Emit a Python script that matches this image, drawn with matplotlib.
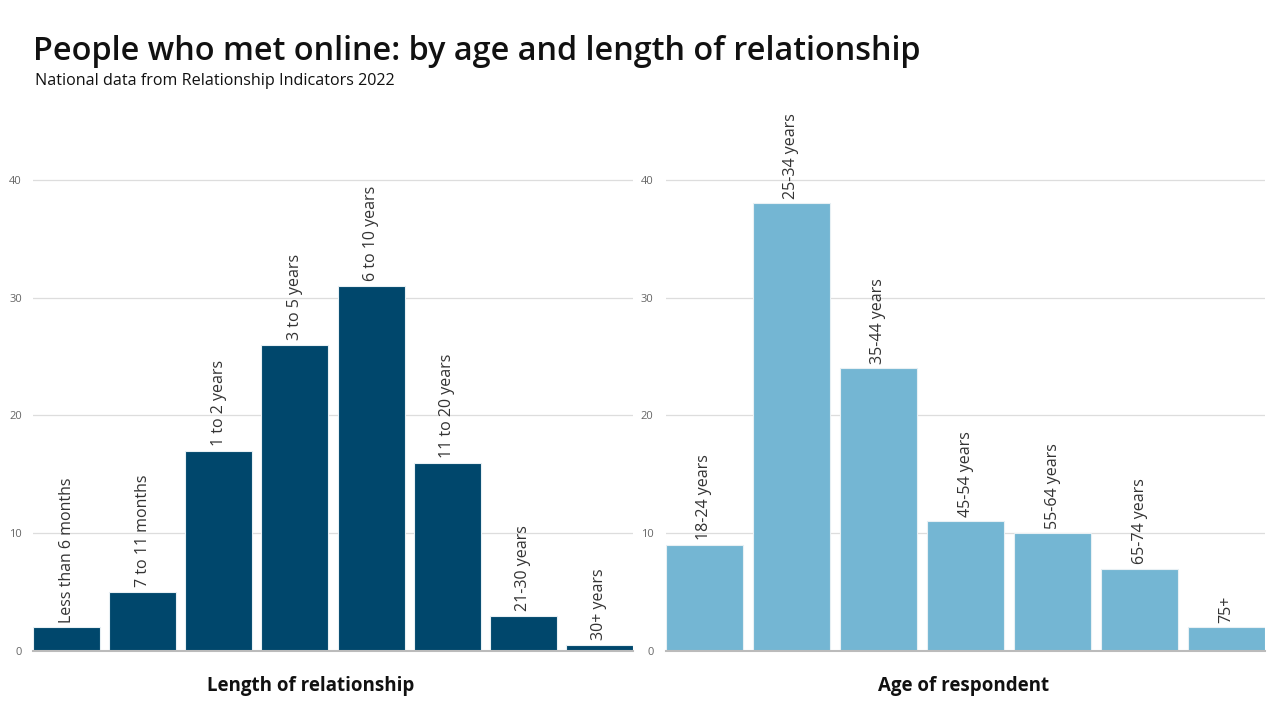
import matplotlib.pyplot as plt

# data
length_cats = ['Less than 6 months', '7 to 11 months', '1 to 2 years', '3 to 5 years',
               '6 to 10 years', '11 to 20 years', '21-30 years', '30+ years']
length_vals = [2, 5, 17, 26, 31, 16, 3, 0.5]

age_cats = ['18-24 years', '25-34 years', '35-44 years', '45-54 years',
            '55-64 years', '65-74 years', '75+']
age_vals = [9, 38, 24, 11, 10, 7, 2]

yticks = [0, 10, 20, 30, 40]

plt.rcParams['font.family'] = ['Open Sans', 'DejaVu Sans']

fig = plt.figure(figsize=(12.8, 7.2), dpi=100)

ax1 = fig.add_axes([33/1280, 1-651/720, 600/1280, 530/720])
ax2 = fig.add_axes([666/1280, 1-651/720, 599/1280, 530/720])


def draw_panel(ax, cats, vals, color, width, xlabel, pad, label_x):
    x = list(range(len(cats)))
    ax.bar(x, vals, width=width, color=color, edgecolor='#e8f0f4', linewidth=0.8, zorder=3)
    for xi, v, c in zip(x, vals, cats):
        ax.text(xi, v + 0.4, c, rotation=90, ha='center', va='bottom',
                fontsize=11.5, color='#333333', zorder=4)
    ax.set_xlim(-width/2, len(cats) - 1 + width/2)
    ax.set_ylim(0, 45)
    ax.set_yticks(yticks)
    ax.set_xticks([])
    ax.tick_params(axis='y', length=0, labelsize=8, labelcolor='#666666', pad=pad)
    ax.grid(axis='y', color='#dddddd', linewidth=0.9, zorder=0)
    for s in ['top', 'right', 'left']:
        ax.spines[s].set_visible(False)
    ax.spines['bottom'].set_color('#bbbbbb')
    ax.spines['bottom'].set_linewidth(1.5)
    ax.spines['bottom'].set_zorder(5)
    ax.set_xlabel(xlabel, fontsize=13.5, fontweight='bold', color='#111111')
    ax.xaxis.set_label_coords(label_x, -0.048)


draw_panel(ax1, length_cats, length_vals, '#00476c', 0.88, 'Length of relationship', 8, 0.462)
draw_panel(ax2, age_cats, age_vals, '#74b6d3', 0.885, 'Age of respondent', 9, 0.497)

fig.text(33/1280, 1-51/720, 'People who met online: by age and length of relationship',
         fontsize=23.3, fontweight='semibold', color='#111111', va='center', ha='left')
fig.text(35/1280, 1-81/720, 'National data from Relationship Indicators 2022',
         fontsize=11.6, color='#111111', va='center', ha='left')

plt.savefig('out.png', dpi=100)
plt.close()
